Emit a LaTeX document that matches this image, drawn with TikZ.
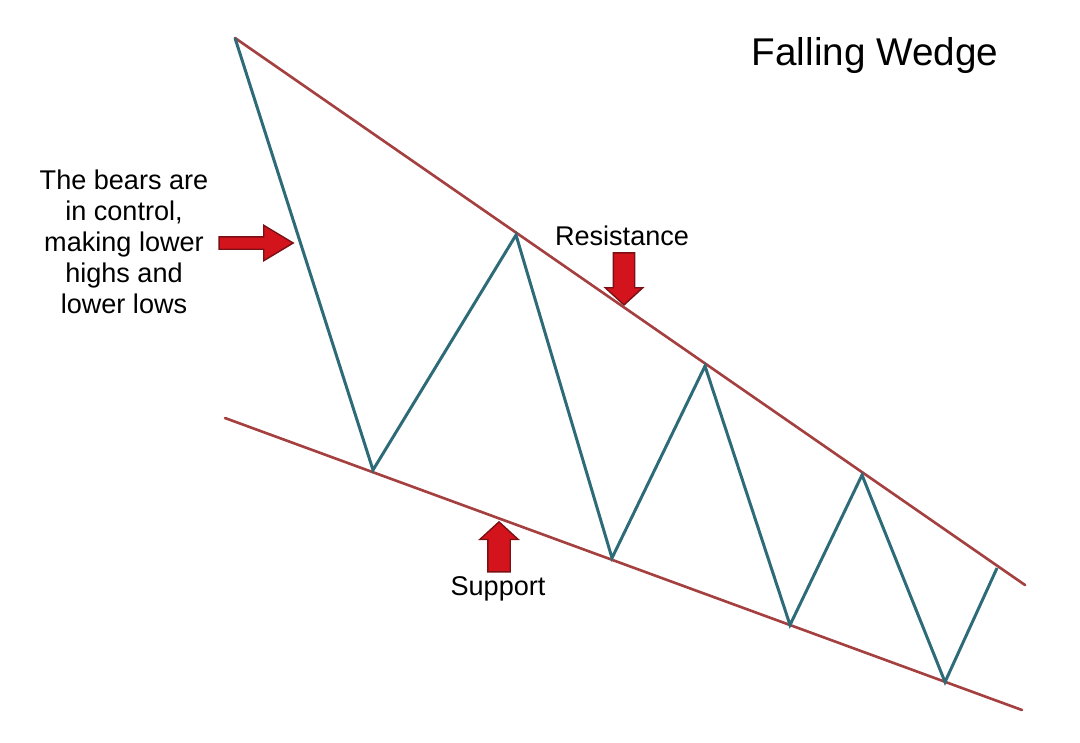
\documentclass[tikz,border=0pt]{standalone}
\usepackage{fontspec}
\setmainfont{Liberation Sans}
\usetikzlibrary{shapes.arrows, positioning}
\definecolor{wedgered}{HTML}{A4403F}
\definecolor{pricecyan}{HTML}{2E6B78}
\definecolor{arrowred}{HTML}{D3141C}
\definecolor{arrowedge}{HTML}{7A1014}

\begin{document}
\begin{tikzpicture}[
    x=0.01cm, y=-0.01cm,
    trend/.style={wedgered, line width=0.75pt, line cap=round},
    price/.style={pricecyan, line width=0.85pt, line join=miter},
    label/.style={font=\fontsize{7.7pt}{8.8pt}\selectfont, align=center, inner sep=0pt},
    bigarrow/.style={single arrow, draw=arrowedge, fill=arrowred, thin, inner sep=0pt, text depth=0pt, single arrow head indent=0pt}
]
\useasboundingbox (0,0) rectangle (1080,742);

% Nodes
\coordinate (r0) at (235,38);
\coordinate (r1) at (1025,585);
\coordinate (s0) at (225,418);
\coordinate (s1) at (1022,710);

\coordinate (p0) at (235,38);
\coordinate (p1) at (373,470);
\coordinate (p2) at (516,235);
\coordinate (p3) at (612,558);
\coordinate (p4) at (705,366);
\coordinate (p5) at (790,625);
\coordinate (p6) at (862,475);
\coordinate (p7) at (945,682);
\coordinate (p8) at (997,568);

\node[font=\fontsize{11pt}{13pt}\selectfont, inner sep=0pt] (title) at (875,55) {Falling Wedge};
\node[label] (bears) at (124,242) {The bears are\\in control,\\making lower\\highs and\\lower lows};
\node[label] (resist) at (622,236) {Resistance};
\node[label] (support) at (498,589) {Support};

\node[bigarrow, text height=0.11cm, minimum height=0.74cm, single arrow tip angle=62, single arrow head extend=0.115cm] (bearsarrow) at (251,243) {};
\node[bigarrow, rotate=-90, text height=0.2cm, minimum height=0.52cm, single arrow tip angle=95, single arrow head extend=0.08cm] (resarrow) at (624,274) {};
\node[bigarrow, rotate=90, text height=0.21cm, minimum height=0.5cm, single arrow tip angle=95, single arrow head extend=0.08cm] (suparrow) at (499,552) {};

% Lines
\draw[trend] (r0) -- (r1);
\draw[trend] (s0) -- (s1);
\draw[price] (p0) -- (p1) -- (p2) -- (p3) -- (p4) -- (p5) -- (p6) -- (p7) -- (p8);

\end{tikzpicture}
\end{document}
